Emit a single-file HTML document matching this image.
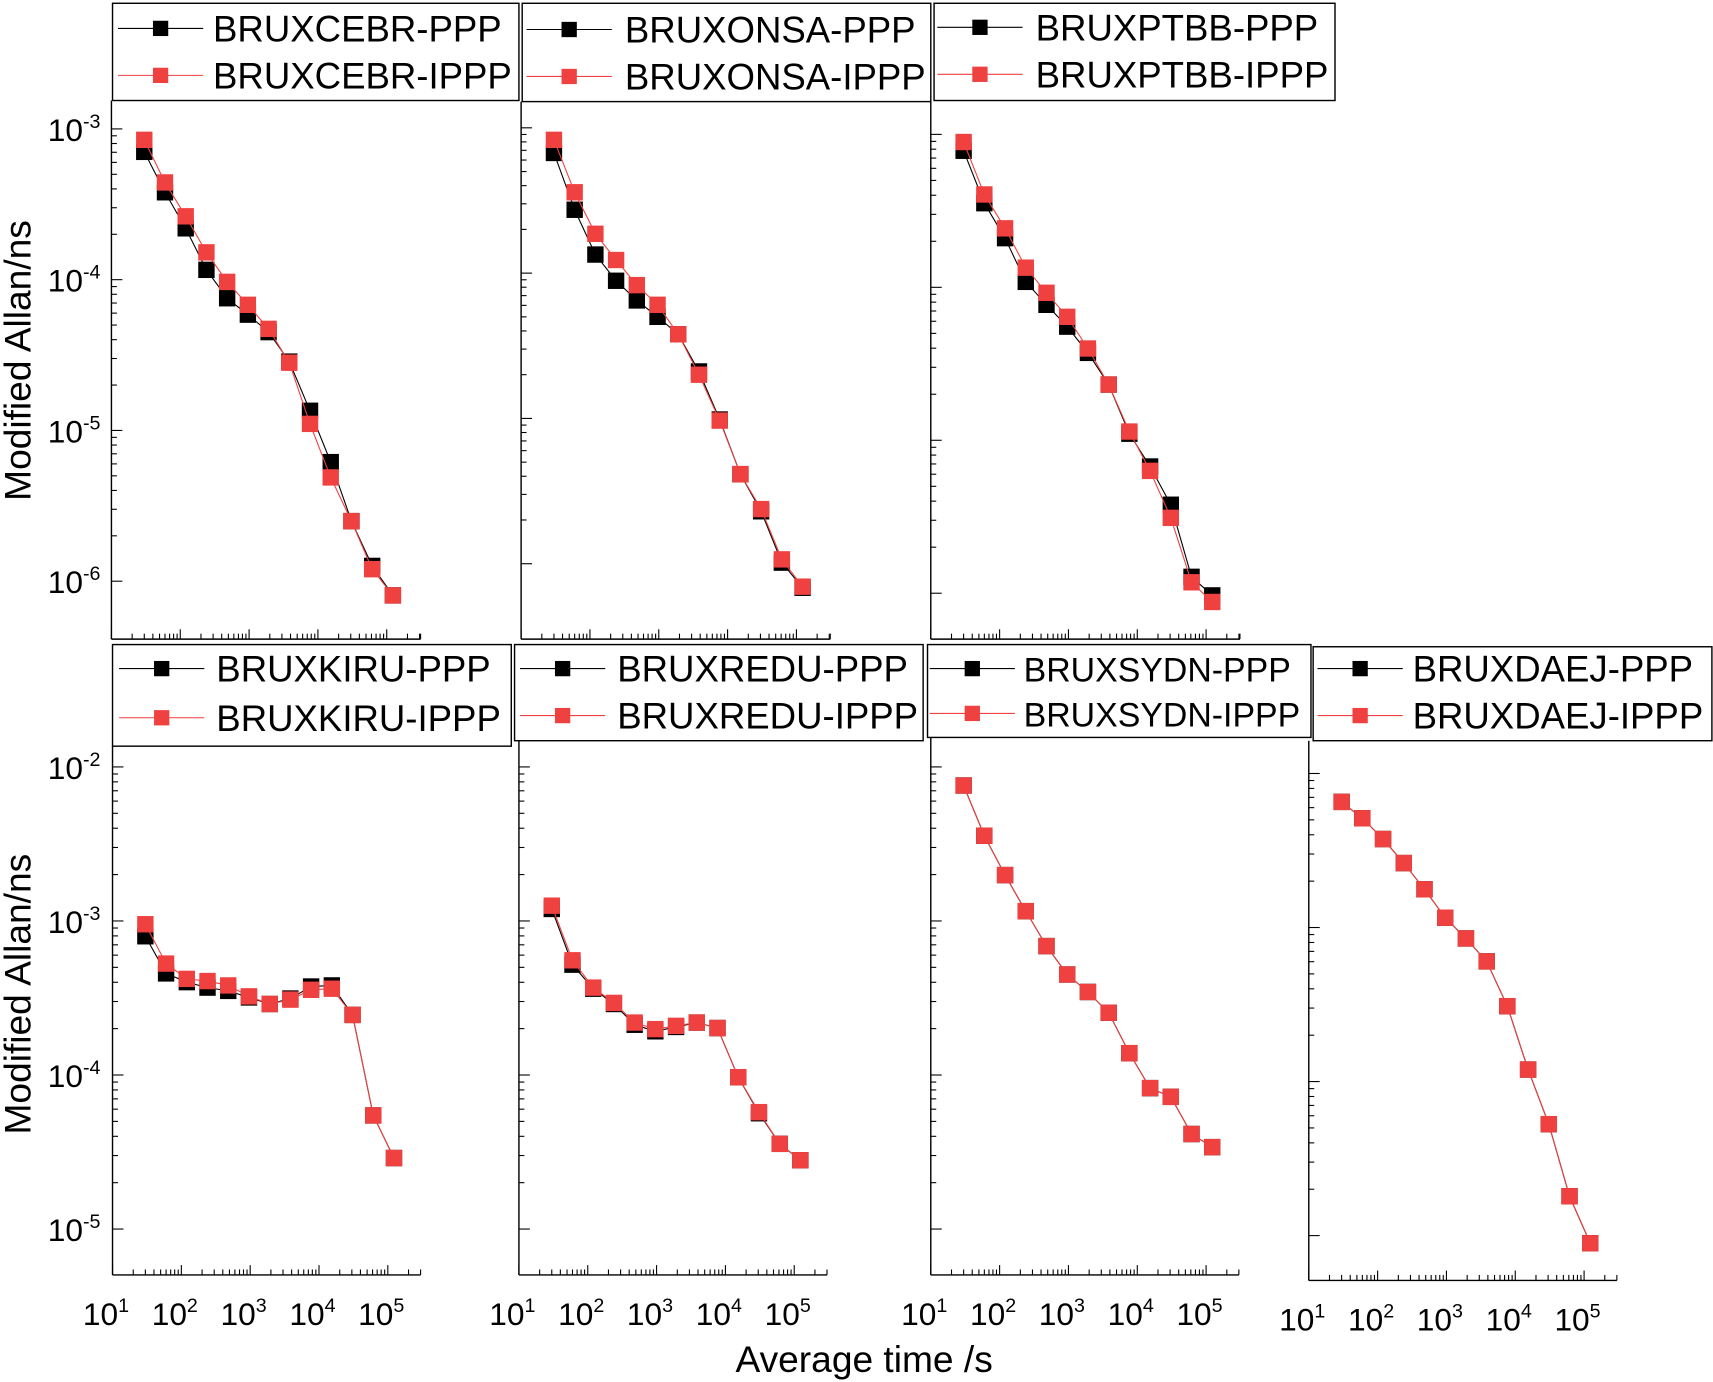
<!DOCTYPE html>
<html><head><meta charset="utf-8"><style>
html,body{margin:0;padding:0;background:#fff}
svg{display:block}
text{font-family:"Liberation Sans",Arial,sans-serif;fill:#000}
</style></head><body>
<svg id="s" width="1713" height="1382" viewBox="0 0 1568 1265" preserveAspectRatio="none" xmlns="http://www.w3.org/2000/svg"></svg>
<script>
const S=document.getElementById('s');let h='';
const R='#f04141';
const P=[
 {x0:102,xe:385,yb:585,yt:92,yr:118,e0:-3,d:138,n:4,lab:true,
  b:[139,176,209,247,273,288,304,331,376,423,477,518,545],r:[128,167,198,231,258,279,301,332,388,437,477,521,545]},
 {x0:477,xe:760,yb:585,yt:93,yr:117,e0:-3,d:133,n:4,
  b:[140,192,233,257,275,290,306,340,384,434,468,515,538],r:[128,176,214,238,261,279,306,343,385,434,466,512,537]},
 {x0:852,xe:1135,yb:585,yt:92,yr:123,e0:-3,d:140,n:4,
  b:[138,186,218,258,279,299,323,352,397,427,462,528,545],r:[130,178,209,245,268,290,319,352,395,431,474,533,551]},
 {x0:103,xe:385,yb:1167,yt:683,yr:702,e0:-2,d:141,n:4,lab:true,xl:1200,
  b:[857,891,899,904,907,913,919,914,903,902,929,1021,1060],r:[846,882,896,898,902,912,919,915,906,905,929,1021,1060]},
 {x0:475,xe:757,yb:1167,yt:678,yr:702,e0:-2,d:141,n:4,xl:1200,
  b:[832,883,905,919,938,944,940,936,941,986,1019,1047,1062],r:[829,879,904,918,936,942,939,936,941,986,1018,1047,1062]},
 {x0:852,xe:1134,yb:1167,yt:675,yr:702,e0:-2,d:141,n:4,xl:1200,
  b:[719,765,801,834,866,892,908,927,964,996,1004,1038,1050],r:[719,765,801,834,866,892,908,927,964,996,1004,1038,1050]},
 {x0:1198,xe:1480,yb:1172,yt:678,yr:708,e0:-2,d:141,n:4,xl:1205,
  b:[734,749,768,790,814,840,859,880,921,979,1029,1095,1138],r:[734,749,768,790,814,840,859,880,921,979,1029,1095,1138]}
];
const DX=63;
P.forEach(p=>{
 h+=`<line x1="${p.x0}" y1="${p.yt}" x2="${p.x0}" y2="${p.yb}" stroke="#000" stroke-width="1.3"/>`;
 h+=`<line x1="${p.x0}" y1="${p.yb}" x2="${p.xe}" y2="${p.yb}" stroke="#000" stroke-width="1.3"/>`;
 for(let e=1;e<=5;e++){for(let m=1;m<=9;m++){const x=p.x0+(e-1+Math.log10(m))*DX;if(x>p.xe)break;
   h+=`<line x1="${x}" y1="${p.yb}" x2="${x}" y2="${p.yb-(m==1?9:5)}" stroke="#000"/>`;}}
 h+=`<line x1="${p.xe}" y1="${p.yb}" x2="${p.xe}" y2="${p.yb-5}" stroke="#000"/>`;
 if(p.xl){for(let e=1;e<=5;e++){const x=p.x0+(e-1)*DX;
   h+=`<text x="${x-6}" y="${p.xl+13}" font-size="29" text-anchor="middle">10<tspan font-size="18" dy="-12">${e}</tspan></text>`;}}
 for(let k=-1;k<p.n;k++){for(let m=1;m<=9;m++){const y=p.yr+k*p.d-Math.log10(m)*p.d;
   if(y>p.yb||y<p.yt+2)continue;
   h+=`<line x1="${p.x0}" y1="${y}" x2="${p.x0+(m==1?10:5)}" y2="${y}" stroke="#000"/>`;}}
 if(p.lab){for(let k=0;k<p.n;k++){const y=p.yr+k*p.d;
   h+=`<text x="92" y="${y+11}" font-size="29" text-anchor="end">10<tspan font-size="18" dy="-12">${p.e0-k}</tspan></text>`;}}
 const xs=[...Array(13).keys()].map(k=>p.x0+(Math.log10(30*Math.pow(2,k))-1)*DX);
 [[p.b,'#000'],[p.r,R]].forEach(([ys,c])=>{
   h+=`<polyline fill="none" stroke="${c}" stroke-width="1" points="${xs.map((x,i)=>x+','+ys[i]).join(' ')}"/>`;
   xs.forEach((x,i)=>h+=`<rect x="${x-7.5}" y="${ys[i]-7.5}" width="15" height="15" fill="${c}"/>`);
 });
});
const L=[
 [103,3,475,92,26,69,147,195,'BRUXCEBR',33.5],
 [478,3,852,93,27,70,521,572,'BRUXONSA',33.5],
 [855,3,1222,92,25,68,897,948,'BRUXPTBB',33.5],
 [103,590,468,683,612,657,148,198,'BRUXKIRU',33.5],
 [471,590,845,678,612,655,515,565,'BRUXREDU',33.5],
 [849,590,1200,675,612,653,890,937,'BRUXSYDN',31],
 [1202,592,1567,678,612,655,1245,1293,'BRUXDAEJ',33.5]
];
L.forEach(([x1,y1,x2,y2,r1,r2,mx,tx,n,fs])=>{
 h+=`<rect x="${x1}" y="${y1}" width="${x2-x1}" height="${y2-y1}" fill="#fff" stroke="#000" stroke-width="1.3"/>`;
 [[r1,'#000','-PPP'],[r2,R,'-IPPP']].forEach(([y,c,s])=>{
  h+=`<line x1="${mx-39}" y1="${y}" x2="${mx+39}" y2="${y}" stroke="${c}" stroke-width="1"/>`;
  h+=`<rect x="${mx-7}" y="${y-7}" width="14" height="14" fill="${c}"/>`;
  h+=`<text x="${tx}" y="${y+12}" font-size="${fs}">${n}${s}</text>`;
 });
});
h+=`<text transform="translate(28,330) rotate(-90)" font-size="34" text-anchor="middle">Modified Allan/ns</text>`;
h+=`<text transform="translate(28,910) rotate(-90)" font-size="34" text-anchor="middle">Modified Allan/ns</text>`;
h+=`<text x="791" y="1256" font-size="34" text-anchor="middle">Average time /s</text>`;
S.innerHTML=h;
</script>
</body></html>
